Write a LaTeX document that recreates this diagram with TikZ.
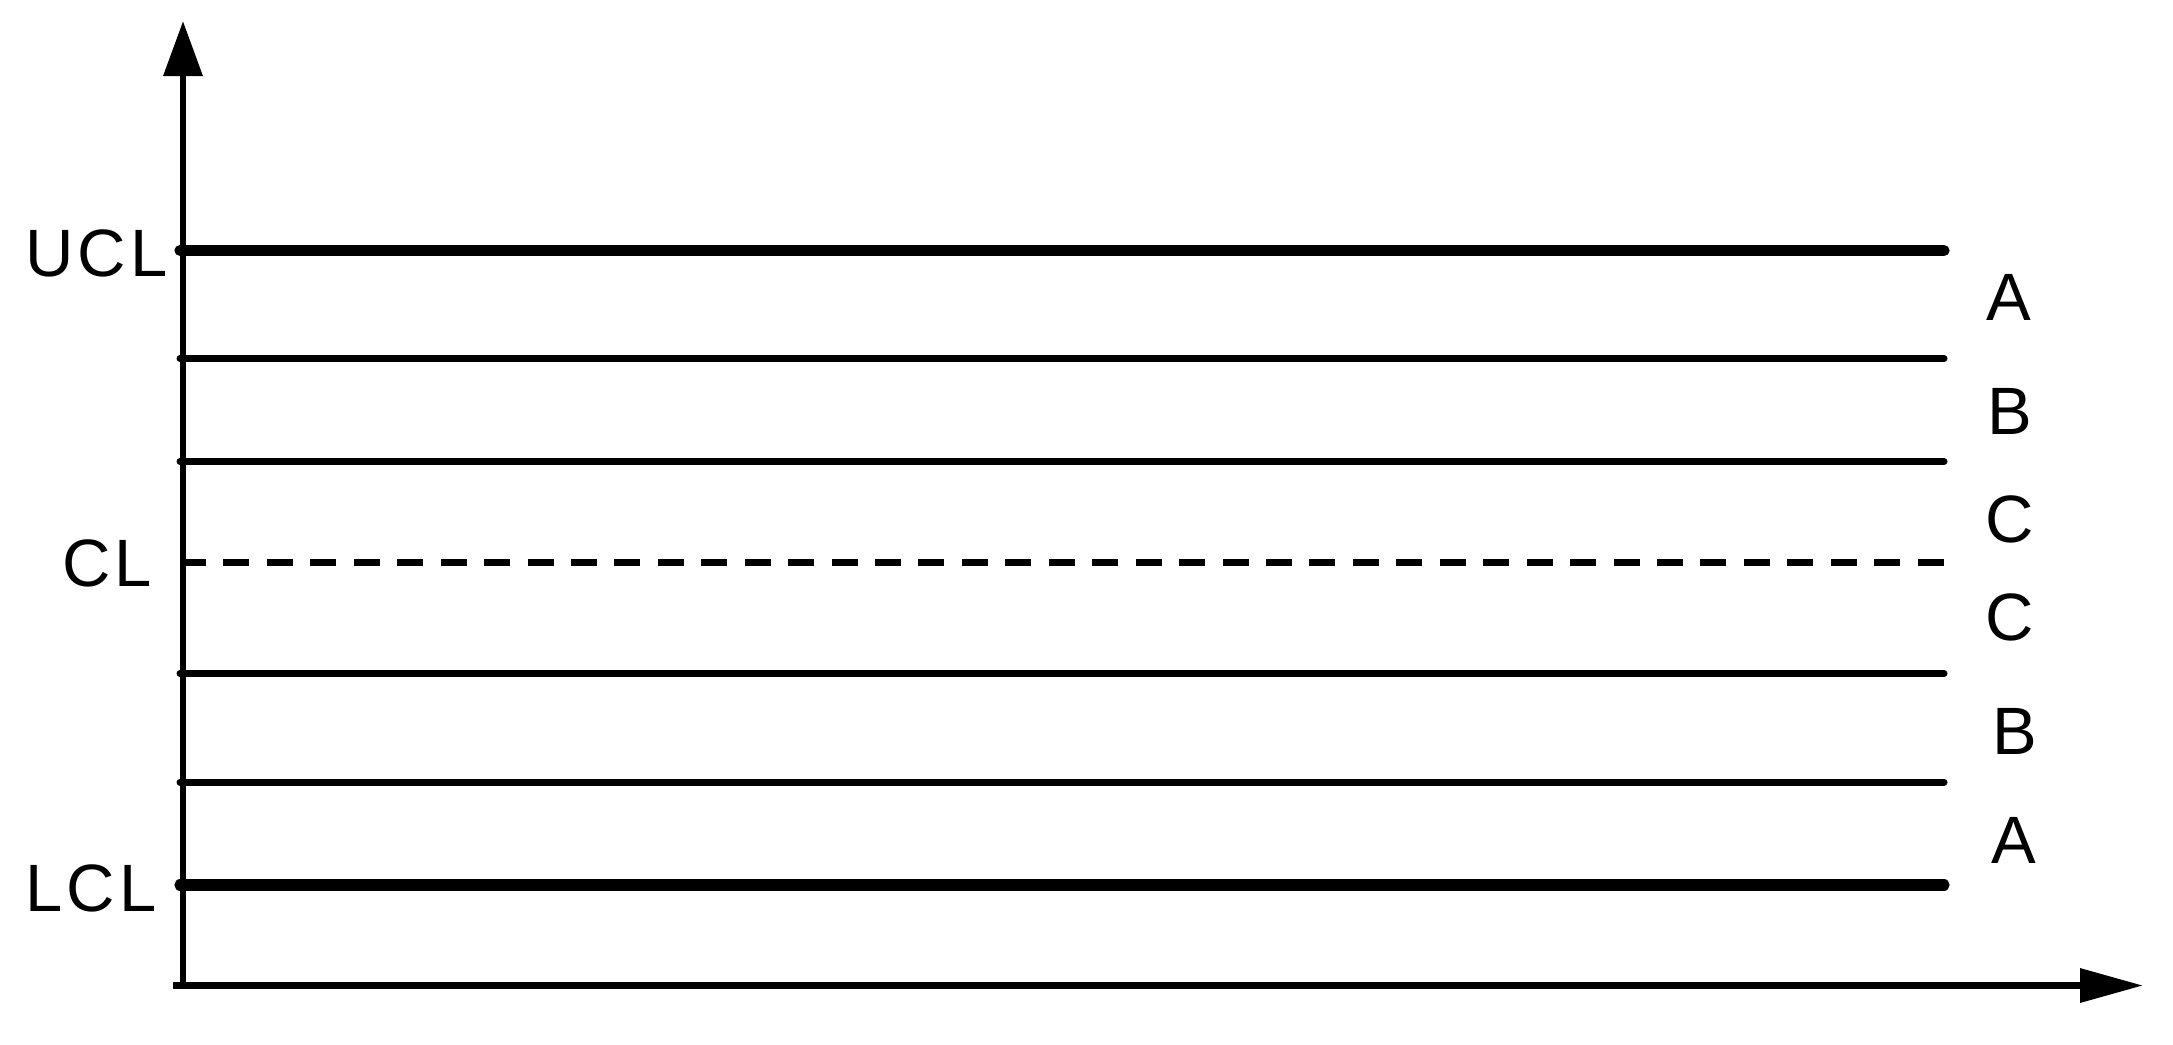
\documentclass[tikz,border=0pt]{standalone}
\usepackage{fontspec}
\setmainfont{Liberation Sans}
\newfontfamily\labfont{Liberation Sans}[LetterSpace=6]
\usetikzlibrary{arrows.meta}
\tikzset{
  axis/.style={line width=3.3pt},
  thickline/.style={line width=5.6pt, line cap=round},
  thinline/.style={line width=3.5pt, line cap=round},
  midline/.style={line width=3.5pt, dash pattern=on 13pt off 8.72pt},
  leftlab/.style={anchor=west, inner sep=0pt, font=\labfont\fontsize{33.5}{40}\selectfont},
  rightlab/.style={anchor=center, inner sep=0pt, font=\fontsize{33.5}{40}\selectfont},
}
\begin{document}
\begin{tikzpicture}[x=0.5pt,y=-0.5pt]
\useasboundingbox (0,0) rectangle (2173,1044);
% axes
\coordinate (ybot) at (183,989);
\coordinate (ytop) at (183,21);
\coordinate (xleft) at (173,985.5);
\coordinate (xright) at (2143,985.5);
\draw[axis,-{Triangle[length=27.5pt,width=19pt]}] (ybot) -- (ytop);
\draw[axis,-{Triangle[length=31.5pt,width=16.5pt]}] (xleft) -- (xright);
% horizontal lines
\coordinate (ucl1) at (180,250.5); \coordinate (ucl2) at (1944,250.5);
\coordinate (a1) at (180,358.5); \coordinate (a2) at (1944,358.5);
\coordinate (b1) at (180,461.5); \coordinate (b2) at (1944,461.5);
\coordinate (cl1) at (180,562.5); \coordinate (cl2) at (1945,562.5);
\coordinate (c1) at (180,673.5); \coordinate (c2) at (1944,673.5);
\coordinate (d1) at (180,782); \coordinate (d2) at (1944,782);
\coordinate (lcl1) at (180,885); \coordinate (lcl2) at (1944,885);
\draw[thickline] (ucl1) -- (ucl2);
\draw[thinline] (a1) -- (a2);
\draw[thinline] (b1) -- (b2);
\draw[midline] (cl1) -- (cl2);
\draw[thinline] (c1) -- (c2);
\draw[thinline] (d1) -- (d2);
\draw[thickline] (lcl1) -- (lcl2);
% left labels
\node[leftlab] (lucl) at (25,253) {UCL};
\node[leftlab] (lcl) at (62,563) {CL};
\node[leftlab] (llcl) at (25,888) {LCL};
% right labels
\node[rightlab] (r1) at (2009,297) {A};
\node[rightlab] (r2) at (2010,411) {B};
\node[rightlab] (r3) at (2010,519) {C};
\node[rightlab] (r4) at (2010,617) {C};
\node[rightlab] (r5) at (2015,731) {B};
\node[rightlab] (r6) at (2014,840) {A};
\end{tikzpicture}
\end{document}
